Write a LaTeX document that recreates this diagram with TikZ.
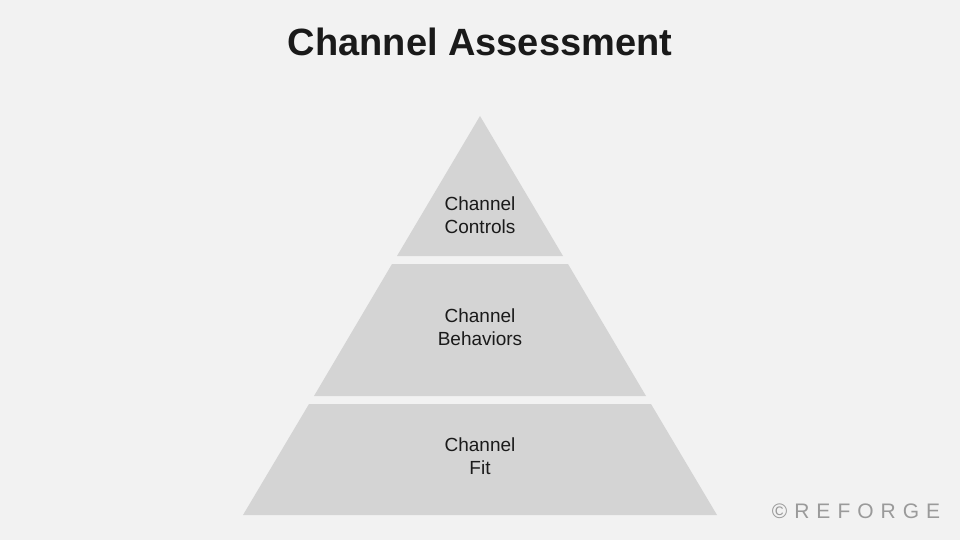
\documentclass[tikz,border=0pt]{standalone}
\usepackage{fontspec}
\setmainfont{Liberation Sans}
\definecolor{bg}{HTML}{F2F2F2}
\definecolor{tier}{HTML}{D4D4D4}
\definecolor{ink}{HTML}{1A1A1A}
\definecolor{logo}{HTML}{9A9A9A}
\begin{document}
\begin{tikzpicture}[x=1pt,y=-1pt,
  tierlabel/.style={font=\fontsize{19}{23}\selectfont, text=ink, align=center}]
\fill[bg] (0,0) rectangle (960,540);
\useasboundingbox (0,0) rectangle (960,540);
\node[font=\fontsize{38}{42}\selectfont\bfseries, text=ink] (title) at (480,42) {Channel Assessment};
\fill[tier] (480,116) -- (563,256) -- (397,256) -- cycle;
\fill[tier] (392,264) -- (568,264) -- (646,396) -- (314,396) -- cycle;
\fill[tier] (309,404) -- (651,404) -- (717,515) -- (243,515) -- cycle;
\node[tierlabel] (top) at (480,215) {Channel\\Controls};
\node[tierlabel] (mid) at (480,327) {Channel\\Behaviors};
\node[tierlabel] (bot) at (480,456) {Channel\\Fit};
\node[font=\fontsize{21}{24}\selectfont, text=logo] (logo) at (856,511) {©\,\,R\,\,E\,\,F\,\,O\,\,R\,\,G\,\,E};
\end{tikzpicture}
\end{document}
